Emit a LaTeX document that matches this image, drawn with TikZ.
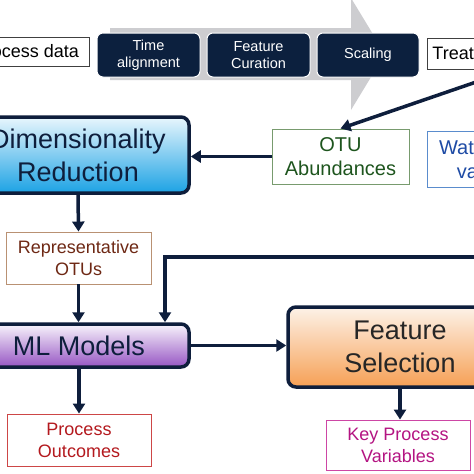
\documentclass[tikz,border=0pt]{standalone}
\usepackage{fontspec}
\setmainfont{Liberation Sans}
\usetikzlibrary{arrows.meta}
\definecolor{navy}{RGB}{14,30,60}
\definecolor{boxnavy}{RGB}{12,32,62}
\definecolor{arrowgray}{RGB}{205,205,208}
\definecolor{otugreen}{RGB}{30,85,30}
\definecolor{otuborder}{RGB}{120,155,110}
\definecolor{repbrown}{RGB}{110,40,20}
\definecolor{repborder}{RGB}{185,145,115}
\definecolor{pored}{RGB}{180,25,30}
\definecolor{poborder}{RGB}{205,70,70}
\definecolor{kpvmag}{RGB}{180,20,130}
\definecolor{kpvborder}{RGB}{205,70,165}
\definecolor{wblue}{RGB}{30,75,165}
\definecolor{wborder}{RGB}{90,140,205}
\definecolor{dimtop}{RGB}{232,246,253}
\definecolor{dimbot}{RGB}{28,162,228}
\definecolor{mltop}{RGB}{248,244,252}
\definecolor{mlbot}{RGB}{150,85,195}
\definecolor{fstop}{RGB}{253,242,232}
\definecolor{fsbot}{RGB}{246,160,85}
\begin{document}
\begin{tikzpicture}[x=1pt,y=-1pt,
  stepbox/.style={draw=white,line width=1pt,fill=boxnavy,rounded corners=6pt,text=white,align=center,inner sep=0pt,minimum height=44pt,font=\fontsize{14.5}{16.5}\selectfont},
  plainbox/.style={draw,line width=0.9pt,fill=white,align=center,inner sep=0pt,font=\fontsize{18}{22}\selectfont},
  bigbox/.style={draw=navy,line width=3.5pt,rounded corners=8pt,align=center,inner sep=0pt,text=navy,font=\fontsize{27}{33}\selectfont},
  conn/.style={draw=navy,line width=3.5pt},
  arr/.style={conn,-{Triangle[width=12pt,length=10pt]}}
]
\useasboundingbox (0,0) rectangle (474,474);
\clip (0,0) rectangle (474,474);
\fill[white] (0,0) rectangle (474,474);
% big gray arrow
\fill[arrowgray] (110,28) -- (351,28) -- (351,-2) -- (385,54) -- (351,110) -- (351,80) -- (110,80) -- cycle;
% top row
\node[plainbox,draw=black!75,minimum width=125pt,minimum height=29pt] (proc) at (26.5,51.5) {Process data};
\node[stepbox,minimum width=103pt] (time) at (148.5,55) {Time\\alignment};
\node[stepbox,minimum width=103pt] (cur) at (258.5,55) {Feature\\Curation};
\node[stepbox,minimum width=102pt] (scal) at (368,55) {Scaling};
\node[plainbox,draw=black!75,minimum height=31pt,anchor=west,text width=140pt,align=left] (treat) at (427,53.5) {\hspace*{5pt}Treatment data};
% middle
\node[plainbox,draw=otuborder,text=otugreen,minimum width=137pt,minimum height=55pt,font=\fontsize{20}{24}\selectfont] (otu) at (340.5,156.5) {OTU\\Abundances};
\node[plainbox,draw=wborder,text=wblue,minimum width=140pt,minimum height=56pt,font=\fontsize{20}{24}\selectfont] (water) at (497,159) {Water quality\\variables};
\node[bigbox,top color=dimtop,bottom color=dimbot,minimum width=222pt,minimum height=76pt] (dim) at (78,155) {Dimensionality\\Reduction};
\node[plainbox,draw=repborder,text=repbrown,minimum width=145pt,minimum height=52pt] (rep) at (78.5,258) {Representative\\OTUs};
\node[bigbox,top color=mltop,bottom color=mlbot,minimum width=220pt,minimum height=43pt] (ml) at (79,345.5) {ML Models};
\node[bigbox,top color=fstop,bottom color=fsbot,minimum width=224pt,minimum height=80pt,text=black!85] (fs) at (400,347) {Feature\\Selection};
\node[plainbox,draw=kpvborder,text=kpvmag,minimum width=144pt,minimum height=50pt] (kpv) at (398,445) {Key Process\\Variables};
\node[plainbox,draw=poborder,text=pored,minimum width=144pt,minimum height=52pt] (po) at (79,440) {Process\\Outcomes};
% connectors
\coordinate (tstart) at (482,80);
\coordinate (loopstart) at (482,257);
\draw[arr] (tstart) -- (otu.north);
\draw[arr] (otu.west) -- (dim.east |- otu.west);
\draw[arr] (dim.south) -- (rep.north);
\draw[arr] (rep.south) -- (ml.north -| rep.south);
\draw[arr] (loopstart) -| ([xshift=86pt]ml.north);
\draw[arr] (ml.east) -- (fs.west |- ml.east);
\draw[arr] (fs.south) -- (kpv.north -| fs.south);
\draw[arr] (ml.south) -- (po.north);
\end{tikzpicture}
\end{document}
